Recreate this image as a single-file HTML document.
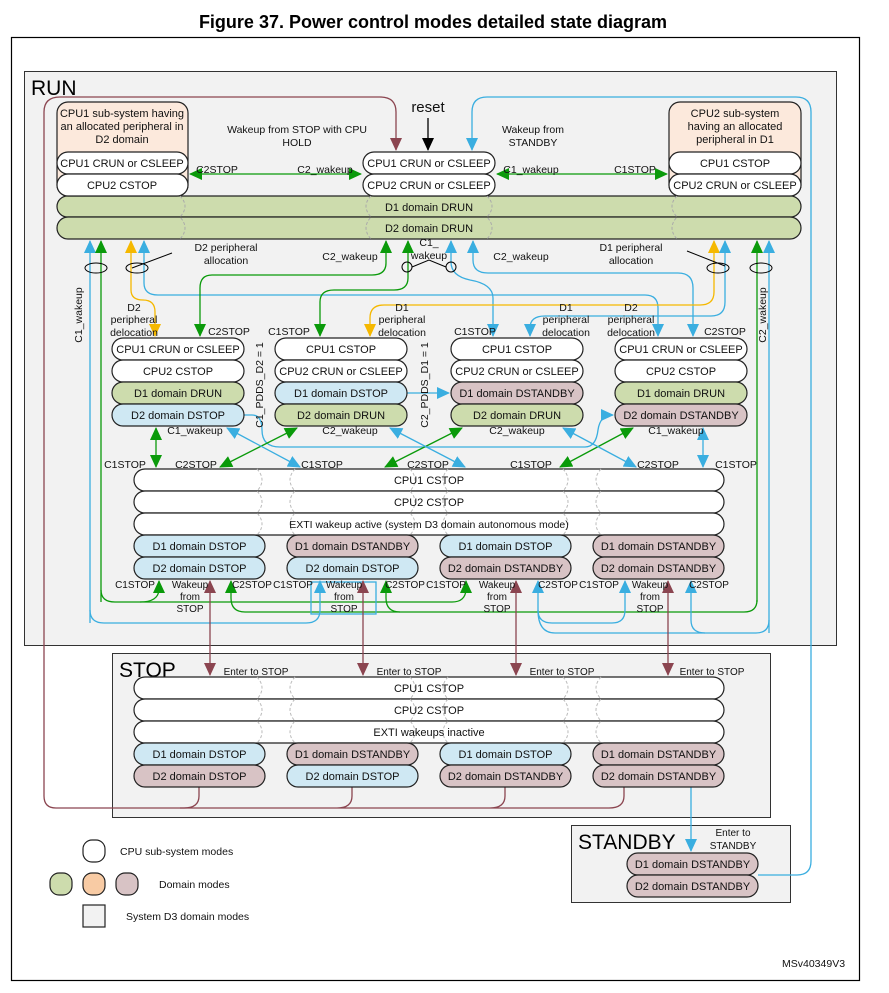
<!DOCTYPE html>
<html><head><meta charset="utf-8"><style>
html,body{margin:0;padding:0;background:#fff}
svg{display:block;font-family:"Liberation Sans",Arial,sans-serif}
</style></head><body>
<svg width="889" height="993" viewBox="0 0 889 993" xmlns="http://www.w3.org/2000/svg">
<defs>
<marker id="ag" markerUnits="userSpaceOnUse" markerWidth="14" markerHeight="12" refX="12" refY="6" orient="auto-start-reverse"><path d="M0,0 L13,6 L0,12 z" fill="#0a9a0a"/></marker>
<marker id="ab" markerUnits="userSpaceOnUse" markerWidth="14" markerHeight="12" refX="12" refY="6" orient="auto-start-reverse"><path d="M0,0 L13,6 L0,12 z" fill="#3aaee0"/></marker>
<marker id="am" markerUnits="userSpaceOnUse" markerWidth="14" markerHeight="12" refX="12" refY="6" orient="auto-start-reverse"><path d="M0,0 L13,6 L0,12 z" fill="#8b4550"/></marker>
<marker id="ao" markerUnits="userSpaceOnUse" markerWidth="14" markerHeight="12" refX="12" refY="6" orient="auto-start-reverse"><path d="M0,0 L13,6 L0,12 z" fill="#f5b800"/></marker>
<marker id="ak" markerUnits="userSpaceOnUse" markerWidth="14" markerHeight="12" refX="12" refY="6" orient="auto-start-reverse"><path d="M0,0 L13,6 L0,12 z" fill="#000"/></marker>
</defs>

<text x="433" y="28" font-size="18" font-weight="bold" text-anchor="middle">Figure 37. Power control modes detailed state diagram</text>
<rect x="11.5" y="37.5" width="848" height="943" fill="#fff" stroke="#000" stroke-width="1.2"/>

<rect x="24.5" y="71.5" width="812" height="574" fill="#f2f2f2" stroke="#333"/>
<text x="31" y="95" font-size="21">RUN</text>
<rect x="112.5" y="653.5" width="658" height="164" fill="#f2f2f2" stroke="#333"/>
<text x="119" y="677" font-size="21">STOP</text>
<rect x="571.5" y="825.5" width="219" height="77" fill="#f2f2f2" stroke="#333"/>
<text x="578" y="849" font-size="21">STANDBY</text>

<g stroke-width="1.3" fill="none">
<path d="M199,787 V796 Q199,808 184,808 H56 Q44,808 44,796 V112 Q44,97 60,97 H380 Q396,97 396,112 V150" stroke="#8b4550" marker-end="url(#am)"/>
<path d="M352,787 V796 Q352,808 337,808 M505,787 V796 Q505,808 490,808 M624,787 V796 Q624,808 609,808 H180" stroke="#8b4550"/>
<path d="M758,875 H797 Q811,875 811,861 V112 Q811,97 796,97 H487 Q472,97 472,112 V150" stroke="#3aaee0" marker-end="url(#ab)"/>
<path d="M691,787 V851" stroke="#3aaee0" marker-end="url(#ab)"/>
<path d="M428,118 V150" stroke="#000" marker-end="url(#ak)"/>
<path d="M190,174 H361" stroke="#0a9a0a" marker-start="url(#ag)" marker-end="url(#ag)"/>
<path d="M497,174 H667" stroke="#0a9a0a" marker-start="url(#ag)" marker-end="url(#ag)"/>

<path d="M90,623 V241" stroke="#3aaee0" marker-end="url(#ab)"/>
<path d="M101,602 V241" stroke="#0a9a0a" marker-end="url(#ag)"/>
<path d="M757,602 V241" stroke="#0a9a0a" marker-end="url(#ag)"/>
<path d="M769,633 V241" stroke="#3aaee0" marker-end="url(#ab)"/>

<path d="M131,241 V290 Q131,300 143,300 Q155,300 155,312 V336" stroke="#f5b800" marker-start="url(#ao)" marker-end="url(#ao)"/>
<path d="M144,241 V283 Q144,295 158,295 H645 Q658,295 658,308 V336" stroke="#3aaee0" marker-start="url(#ab)" marker-end="url(#ab)"/>
<path d="M386,241 V263 Q386,275 372,275 H212 Q200,275 200,288 V336" stroke="#0a9a0a" marker-start="url(#ag)" marker-end="url(#ag)"/>
<path d="M408,241 V278 Q408,290 394,290 H334 Q320,290 320,302 V336" stroke="#0a9a0a" marker-start="url(#ag)" marker-end="url(#ag)"/>
<path d="M451,241 V262 Q451,276 470,280 Q493,284 493,298 V336" stroke="#3aaee0" marker-start="url(#ab)" marker-end="url(#ab)"/>
<path d="M473,241 V260 Q473,273 488,273 H678 Q693,273 693,288 V336" stroke="#3aaee0" marker-start="url(#ab)" marker-end="url(#ab)"/>
<path d="M714,241 V292 Q714,305 700,305 H384 Q370,305 370,318 V336" stroke="#f5b800" marker-start="url(#ao)" marker-end="url(#ao)"/>
<path d="M725,241 V302 Q725,316 711,316 H545 Q530,316 530,328 V336" stroke="#3aaee0" marker-start="url(#ab)" marker-end="url(#ab)"/>
<path d="M407,393 H449" stroke="#3aaee0" marker-end="url(#ab)"/>
<path d="M244,415 H252 Q262,415 262,430 Q262,447 280,447 H585 Q596,447 598,430 Q600,415 613,415" stroke="#3aaee0" marker-end="url(#ab)"/>
<path d="M156,428 V467" stroke="#0a9a0a" marker-start="url(#ag)" marker-end="url(#ag)"/>
<path d="M297,428 L220,467" stroke="#0a9a0a" marker-start="url(#ag)" marker-end="url(#ag)"/>
<path d="M462,428 L385,467" stroke="#0a9a0a" marker-start="url(#ag)" marker-end="url(#ag)"/>
<path d="M633,428 L560,467" stroke="#0a9a0a" marker-start="url(#ag)" marker-end="url(#ag)"/>
<path d="M227,428 L300,467" stroke="#3aaee0" marker-start="url(#ab)" marker-end="url(#ab)"/>
<path d="M390,428 L465,467" stroke="#3aaee0" marker-start="url(#ab)" marker-end="url(#ab)"/>
<path d="M563,428 L636,467" stroke="#3aaee0" marker-start="url(#ab)" marker-end="url(#ab)"/>
<path d="M703,428 V467" stroke="#3aaee0" marker-start="url(#ab)" marker-end="url(#ab)"/>
<path d="M101,590 Q101,602 115,602 H452 Q465,602 466,590 V581" stroke="#0a9a0a" marker-end="url(#ag)"/>
<path d="M140,602 Q158,602 159,590 V581" stroke="#0a9a0a" marker-end="url(#ag)"/>
<path d="M231,581 V598 Q231,612 245,612 H744 Q757,612 757,600" stroke="#0a9a0a" marker-start="url(#ag)"/>
<path d="M386,581 V598 Q386,612 400,612" stroke="#0a9a0a" marker-start="url(#ag)"/>
<path d="M90,610 Q90,623 104,623 H306 Q320,623 320,610 V581" stroke="#3aaee0" marker-end="url(#ab)"/>
<path d="M538,581 V610 Q538,623 552,623 H612 Q625,623 625,610 V581" stroke="#3aaee0" marker-start="url(#ab)" marker-end="url(#ab)"/>
<path d="M538,610 Q538,633 555,633 H756 Q769,633 769,620" stroke="#3aaee0"/>
<path d="M691,581 V620 Q691,633 705,633" stroke="#3aaee0" marker-start="url(#ab)"/>
<rect x="311" y="582" width="65" height="32" stroke="#3aaee0"/>
<path d="M210,581 V675" stroke="#8b4550" marker-start="url(#am)" marker-end="url(#am)"/>
<path d="M363,581 V675" stroke="#8b4550" marker-start="url(#am)" marker-end="url(#am)"/>
<path d="M516,581 V675" stroke="#8b4550" marker-start="url(#am)" marker-end="url(#am)"/>
<path d="M668,581 V675" stroke="#8b4550" marker-start="url(#am)" marker-end="url(#am)"/>
</g>

<g fill="none" stroke="#000" stroke-width="1">
<ellipse cx="96" cy="268" rx="11" ry="5"/>
<ellipse cx="137" cy="268" rx="11" ry="5"/>
<ellipse cx="718" cy="268" rx="11" ry="5"/>
<ellipse cx="761" cy="268" rx="11" ry="5"/>
<circle cx="407" cy="267" r="5"/>
<circle cx="451" cy="267" r="5"/>
<path d="M412,267 L429,260 L446,267"/>
<path d="M132,268 L172,253"/>
<path d="M687,251 L725,266"/>
</g>

<g stroke="#222" stroke-width="1.2">
<rect x="57" y="102" width="131" height="94" rx="11" fill="#fce9dc"/>
<rect x="669" y="102" width="132" height="94" rx="11" fill="#fce9dc"/>
<rect x="57" y="196" width="744" height="21" rx="10.5" fill="#cddcad"/>
<rect x="57" y="217" width="744" height="22" rx="11" fill="#cddcad"/>
<rect x="57" y="152" width="131" height="22" rx="11" fill="#fff"/>
<rect x="57" y="174" width="131" height="22" rx="11" fill="#fff"/>
<rect x="363" y="152" width="132" height="22" rx="11" fill="#fff"/>
<rect x="363" y="174" width="132" height="22" rx="11" fill="#fff"/>
<rect x="669" y="152" width="132" height="22" rx="11" fill="#fff"/>
<rect x="669" y="174" width="132" height="22" rx="11" fill="#fff"/>
</g>
<g fill="none" stroke="#aaa" stroke-dasharray="3,2">
<path d="M180,196 q10,10 0,21 q10,11 0,22 M371,196 q-10,10 0,21 q-10,11 0,22 M487,196 q10,10 0,21 q10,11 0,22 M677,196 q-10,10 0,21 q-10,11 0,22"/>
</g>

<g stroke="#222" stroke-width="1.2">
<rect x="112" y="338" width="132" height="22" rx="11" fill="#fff"/>
<rect x="112" y="360" width="132" height="22" rx="11" fill="#fff"/>
<rect x="112" y="382" width="132" height="22" rx="11" fill="#cddcad"/>
<rect x="112" y="404" width="132" height="22" rx="11" fill="#cfe8f3"/>
<rect x="275" y="338" width="132" height="22" rx="11" fill="#fff"/>
<rect x="275" y="360" width="132" height="22" rx="11" fill="#fff"/>
<rect x="275" y="382" width="132" height="22" rx="11" fill="#cfe8f3"/>
<rect x="275" y="404" width="132" height="22" rx="11" fill="#cddcad"/>
<rect x="451" y="338" width="132" height="22" rx="11" fill="#fff"/>
<rect x="451" y="360" width="132" height="22" rx="11" fill="#fff"/>
<rect x="451" y="382" width="132" height="22" rx="11" fill="#d8c3c5"/>
<rect x="451" y="404" width="132" height="22" rx="11" fill="#cddcad"/>
<rect x="615" y="338" width="132" height="22" rx="11" fill="#fff"/>
<rect x="615" y="360" width="132" height="22" rx="11" fill="#fff"/>
<rect x="615" y="382" width="132" height="22" rx="11" fill="#cddcad"/>
<rect x="615" y="404" width="132" height="22" rx="11" fill="#d8c3c5"/>
<rect x="134" y="469" width="590" height="22" rx="11" fill="#fff"/>
<rect x="134" y="491" width="590" height="22" rx="11" fill="#fff"/>
<rect x="134" y="513" width="590" height="22" rx="11" fill="#fff"/>
<rect x="134" y="535" width="131" height="22" rx="11" fill="#cfe8f3"/>
<rect x="134" y="557" width="131" height="22" rx="11" fill="#cfe8f3"/>
<rect x="287" y="535" width="131" height="22" rx="11" fill="#d8c3c5"/>
<rect x="287" y="557" width="131" height="22" rx="11" fill="#cfe8f3"/>
<rect x="440" y="535" width="131" height="22" rx="11" fill="#cfe8f3"/>
<rect x="440" y="557" width="131" height="22" rx="11" fill="#d8c3c5"/>
<rect x="593" y="535" width="131" height="22" rx="11" fill="#d8c3c5"/>
<rect x="593" y="557" width="131" height="22" rx="11" fill="#d8c3c5"/>
<rect x="134" y="677" width="590" height="22" rx="11" fill="#fff"/>
<rect x="134" y="699" width="590" height="22" rx="11" fill="#fff"/>
<rect x="134" y="721" width="590" height="22" rx="11" fill="#fff"/>
<rect x="134" y="743" width="131" height="22" rx="11" fill="#cfe8f3"/>
<rect x="134" y="765" width="131" height="22" rx="11" fill="#d8c3c5"/>
<rect x="287" y="743" width="131" height="22" rx="11" fill="#d8c3c5"/>
<rect x="287" y="765" width="131" height="22" rx="11" fill="#cfe8f3"/>
<rect x="440" y="743" width="131" height="22" rx="11" fill="#cfe8f3"/>
<rect x="440" y="765" width="131" height="22" rx="11" fill="#d8c3c5"/>
<rect x="593" y="743" width="131" height="22" rx="11" fill="#d8c3c5"/>
<rect x="593" y="765" width="131" height="22" rx="11" fill="#d8c3c5"/>
<rect x="627" y="853" width="131" height="22" rx="11" fill="#d8c3c5"/>
<rect x="627" y="875" width="131" height="22" rx="11" fill="#d8c3c5"/>
<rect x="83" y="840" width="22" height="22" rx="9" fill="#fff"/>
<rect x="50" y="873" width="22" height="22" rx="9" fill="#cddcad"/>
<rect x="83" y="873" width="22" height="22" rx="9" fill="#f8cba4"/>
<rect x="116" y="873" width="22" height="22" rx="9" fill="#d8c3c5"/>
<rect x="83" y="905" width="22" height="22" fill="#f2f2f2"/>
</g>
<g fill="none" stroke="#bbb" stroke-dasharray="3,2">
<path d="M257,469 q10,11 0,22 q10,11 0,22 q10,11 0,22 M295,469 q-10,11 0,22 q-10,11 0,22 q-10,11 0,22 M410,469 q10,11 0,22 q10,11 0,22 q10,11 0,22 M448,469 q-10,11 0,22 q-10,11 0,22 q-10,11 0,22 M563,469 q10,11 0,22 q10,11 0,22 q10,11 0,22 M601,469 q-10,11 0,22 q-10,11 0,22 q-10,11 0,22"/>
<path d="M257,677 q10,11 0,22 q10,11 0,22 q10,11 0,22 M295,677 q-10,11 0,22 q-10,11 0,22 q-10,11 0,22 M410,677 q10,11 0,22 q10,11 0,22 q10,11 0,22 M448,677 q-10,11 0,22 q-10,11 0,22 q-10,11 0,22 M563,677 q10,11 0,22 q10,11 0,22 q10,11 0,22 M601,677 q-10,11 0,22 q-10,11 0,22 q-10,11 0,22"/>
</g>

<g font-size="11" text-anchor="middle" fill="#111">
<text x="122" y="117">CPU1 sub-system having</text>
<text x="122" y="130">an allocated peripheral in</text>
<text x="122" y="143">D2 domain</text>
<text x="735" y="117">CPU2 sub-system</text>
<text x="735" y="130">having an allocated</text>
<text x="735" y="143">peripheral in  D1</text>
<text x="122" y="167">CPU1 CRUN or CSLEEP</text>
<text x="122" y="189">CPU2 CSTOP</text>
<text x="429" y="167">CPU1 CRUN or CSLEEP</text>
<text x="429" y="189">CPU2 CRUN or CSLEEP</text>
<text x="735" y="167">CPU1 CSTOP</text>
<text x="735" y="189">CPU2 CRUN or CSLEEP</text>
<text x="429" y="211">D1 domain DRUN</text>
<text x="429" y="232">D2 domain DRUN</text>
<text x="178" y="353">CPU1 CRUN or CSLEEP</text>
<text x="178" y="375">CPU2 CSTOP</text>
<text x="178" y="397">D1 domain DRUN</text>
<text x="178" y="419">D2 domain DSTOP</text>
<text x="341" y="353">CPU1 CSTOP</text>
<text x="341" y="375">CPU2 CRUN or CSLEEP</text>
<text x="341" y="397">D1 domain DSTOP</text>
<text x="341" y="419">D2 domain DRUN</text>
<text x="517" y="353">CPU1 CSTOP</text>
<text x="517" y="375">CPU2 CRUN or CSLEEP</text>
<text x="517" y="397">D1 domain DSTANDBY</text>
<text x="517" y="419">D2 domain DRUN</text>
<text x="681" y="353">CPU1 CRUN or CSLEEP</text>
<text x="681" y="375">CPU2 CSTOP</text>
<text x="681" y="397">D1 domain DRUN</text>
<text x="681" y="419">D2 domain DSTANDBY</text>
<text x="429" y="484">CPU1 CSTOP</text>
<text x="429" y="506">CPU2 CSTOP</text>
<text x="429" y="528" font-size="10.5">EXTI wakeup active (system D3 domain autonomous mode)</text>
<text x="199.5" y="550">D1 domain DSTOP</text>
<text x="199.5" y="572">D2 domain DSTOP</text>
<text x="352.5" y="550">D1 domain DSTANDBY</text>
<text x="352.5" y="572">D2 domain DSTOP</text>
<text x="505.5" y="550">D1 domain DSTOP</text>
<text x="505.5" y="572">D2 domain DSTANDBY</text>
<text x="658.5" y="550">D1 domain DSTANDBY</text>
<text x="658.5" y="572">D2 domain DSTANDBY</text>
<text x="429" y="692">CPU1 CSTOP</text>
<text x="429" y="714">CPU2 CSTOP</text>
<text x="429" y="736">EXTI wakeups inactive</text>
<text x="199.5" y="758">D1 domain DSTOP</text>
<text x="199.5" y="780">D2 domain DSTOP</text>
<text x="352.5" y="758">D1 domain DSTANDBY</text>
<text x="352.5" y="780">D2 domain DSTOP</text>
<text x="505.5" y="758">D1 domain DSTOP</text>
<text x="505.5" y="780">D2 domain DSTANDBY</text>
<text x="658.5" y="758">D1 domain DSTANDBY</text>
<text x="658.5" y="780">D2 domain DSTANDBY</text>
<text x="692.5" y="868">D1 domain DSTANDBY</text>
<text x="692.5" y="890">D2 domain DSTANDBY</text>
</g>

<g font-size="10.5" text-anchor="middle" fill="#111">
<text x="428" y="112" font-size="15">reset</text>
<text x="297" y="133">Wakeup from STOP with CPU</text>
<text x="297" y="146">HOLD</text>
<text x="533" y="133">Wakeup from</text>
<text x="533" y="146">STANDBY</text>
<text x="217" y="173">C2STOP</text>
<text x="325" y="173">C2_wakeup</text>
<text x="531" y="173">C1_wakeup</text>
<text x="635" y="173">C1STOP</text>
<text x="226" y="251">D2 peripheral</text>
<text x="226" y="264">allocation</text>
<text x="631" y="251">D1 peripheral</text>
<text x="631" y="264">allocation</text>
<text x="350" y="260">C2_wakeup</text>
<text x="429" y="246">C1_</text>
<text x="429" y="259">wakeup</text>
<text x="521" y="260">C2_wakeup</text>
<text x="134" y="311">D2</text>
<text x="134" y="323">peripheral</text>
<text x="134" y="336">delocation</text>
<text x="402" y="311">D1</text>
<text x="402" y="323">peripheral</text>
<text x="402" y="336">delocation</text>
<text x="566" y="311">D1</text>
<text x="566" y="323">peripheral</text>
<text x="566" y="336">delocation</text>
<text x="631" y="311">D2</text>
<text x="631" y="323">peripheral</text>
<text x="631" y="336">delocation</text>
<text x="229" y="335">C2STOP</text>
<text x="289" y="335">C1STOP</text>
<text x="475" y="335">C1STOP</text>
<text x="725" y="335">C2STOP</text>
<text x="195" y="434">C1_wakeup</text>
<text x="350" y="434">C2_wakeup</text>
<text x="517" y="434">C2_wakeup</text>
<text x="676" y="434">C1_wakeup</text>
<text x="125" y="468">C1STOP</text>
<text x="196" y="468">C2STOP</text>
<text x="322" y="468">C1STOP</text>
<text x="428" y="468">C2STOP</text>
<text x="531" y="468">C1STOP</text>
<text x="658" y="468">C2STOP</text>
<text x="736" y="468">C1STOP</text>
<g font-size="10">
<text x="135" y="588">C1STOP</text><text x="190" y="588">Wakeup</text><text x="190" y="600">from</text><text x="190" y="612">STOP</text><text x="252" y="588">C2STOP</text>
<text x="293" y="588">C1STOP</text><text x="344" y="588">Wakeup</text><text x="344" y="600">from</text><text x="344" y="612">STOP</text><text x="405" y="588">C2STOP</text>
<text x="446" y="588">C1STOP</text><text x="497" y="588">Wakeup</text><text x="497" y="600">from</text><text x="497" y="612">STOP</text><text x="558" y="588">C2STOP</text>
<text x="599" y="588">C1STOP</text><text x="650" y="588">Wakeup</text><text x="650" y="600">from</text><text x="650" y="612">STOP</text><text x="709" y="588">C2STOP</text>
<text x="256" y="675">Enter to STOP</text>
<text x="409" y="675">Enter to STOP</text>
<text x="562" y="675">Enter to STOP</text>
<text x="712" y="675">Enter to STOP</text>
<text x="733" y="836">Enter to</text>
<text x="733" y="849">STANDBY</text>
</g>
<text x="82" y="315" transform="rotate(-90 82 315)">C1_wakeup</text>
<text x="766" y="315" transform="rotate(-90 766 315)">C2_wakeup</text>
<text x="263" y="385" transform="rotate(-90 263 385)">C1_PDDS_D2 = 1</text>
<text x="428" y="385" transform="rotate(-90 428 385)">C2_PDDS_D1 = 1</text>
</g>

<g font-size="10.5" fill="#111">
<text x="120" y="855">CPU sub-system modes</text>
<text x="159" y="888">Domain modes</text>
<text x="126" y="920">System D3 domain modes</text>
<text x="782" y="967">MSv40349V3</text>
</g>
</svg>
</body></html>
